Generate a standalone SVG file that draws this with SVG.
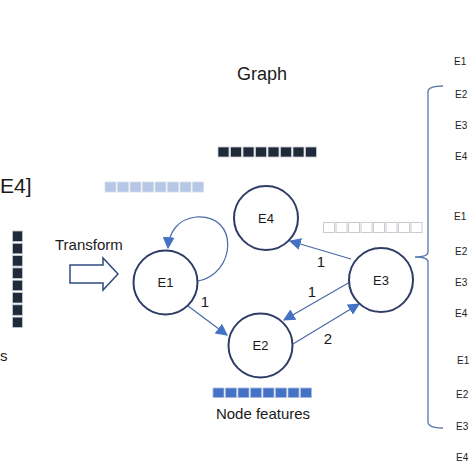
<svg xmlns="http://www.w3.org/2000/svg" width="474" height="474" viewBox="0 0 474 474">
<defs>
<style>
.t{font-family:"Liberation Sans",Arial,sans-serif;fill:#1a1a1a}
.node{fill:#fff;stroke:#2f3d66;stroke-width:2}
.edge{fill:none;stroke:#4a6aa8;stroke-width:1.2}
.dk{fill:#1f2a3a;stroke:#c8ccd2;stroke-width:0.8}
.lb{fill:#b4c7e7;stroke:#d6dde8;stroke-width:0.8}
.wh{fill:#fff;stroke:#c8ccd2;stroke-width:1}
.bl{fill:#4472c4;stroke:#aabbe0;stroke-width:0.8}
.lab{font-family:"Liberation Sans",Arial,sans-serif;font-size:10px;fill:#222}
</style>
<marker id="ah2" viewBox="0 0 10 10" refX="9" refY="5" markerWidth="12" markerHeight="12" orient="auto" markerUnits="userSpaceOnUse">
<path d="M0,0 L10,5 L0,10 z" fill="#4472c4"/>
</marker>
</defs>
<rect width="474" height="474" fill="#fff"/>

<text class="t" x="262" y="80" font-size="18" text-anchor="middle">Graph</text>
<text class="t" x="0" y="193" font-size="21">E4]</text>
<text class="t" x="0" y="361" font-size="15">s</text>
<text class="t" x="55" y="250" font-size="15">Transform</text>
<text class="t" x="263" y="419" font-size="15" text-anchor="middle">Node features</text>

<!-- hollow arrow -->
<path d="M70,265 L103,265 L103,258 L118,274 L103,290 L103,283 L70,283 Z" fill="#fff" stroke="#2f4a80" stroke-width="1.5"/>

<!-- vertical feature bar -->
<g id="vbar">
<rect class="dk" x="12.5" y="231" width="10" height="10.5"/>
<rect class="dk" x="12.5" y="243.3" width="10" height="10.5"/>
<rect class="dk" x="12.5" y="255.6" width="10" height="10.5"/>
<rect class="dk" x="12.5" y="267.9" width="10" height="10.5"/>
<rect class="dk" x="12.5" y="280.2" width="10" height="10.5"/>
<rect class="dk" x="12.5" y="292.5" width="10" height="10.5"/>
<rect class="dk" x="12.5" y="304.8" width="10" height="10.5"/>
<rect class="dk" x="12.5" y="317.1" width="10" height="10.5"/>
</g>

<!-- horizontal feature bars -->
<g id="bar-dark">
<rect class="dk" x="218" y="147" width="11" height="10"/>
<rect class="dk" x="230.5" y="147" width="11" height="10"/>
<rect class="dk" x="243" y="147" width="11" height="10"/>
<rect class="dk" x="255.5" y="147" width="11" height="10"/>
<rect class="dk" x="268" y="147" width="11" height="10"/>
<rect class="dk" x="280.5" y="147" width="11" height="10"/>
<rect class="dk" x="293" y="147" width="11" height="10"/>
<rect class="dk" x="305.5" y="147" width="11" height="10"/>
</g>
<g id="bar-light">
<rect class="lb" x="105" y="182" width="11" height="10"/>
<rect class="lb" x="117.5" y="182" width="11" height="10"/>
<rect class="lb" x="130" y="182" width="11" height="10"/>
<rect class="lb" x="142.5" y="182" width="11" height="10"/>
<rect class="lb" x="155" y="182" width="11" height="10"/>
<rect class="lb" x="167.5" y="182" width="11" height="10"/>
<rect class="lb" x="180" y="182" width="11" height="10"/>
<rect class="lb" x="192.5" y="182" width="11" height="10"/>
</g>
<g id="bar-white">
<rect class="wh" x="323.5" y="222.5" width="11" height="10"/>
<rect class="wh" x="336" y="222.5" width="11" height="10"/>
<rect class="wh" x="348.5" y="222.5" width="11" height="10"/>
<rect class="wh" x="361" y="222.5" width="11" height="10"/>
<rect class="wh" x="373.5" y="222.5" width="11" height="10"/>
<rect class="wh" x="386" y="222.5" width="11" height="10"/>
<rect class="wh" x="398.5" y="222.5" width="11" height="10"/>
<rect class="wh" x="411" y="222.5" width="11" height="10"/>
</g>
<g id="bar-blue">
<rect class="bl" x="213" y="388" width="11" height="9.5"/>
<rect class="bl" x="225.5" y="388" width="11" height="9.5"/>
<rect class="bl" x="238" y="388" width="11" height="9.5"/>
<rect class="bl" x="250.5" y="388" width="11" height="9.5"/>
<rect class="bl" x="263" y="388" width="11" height="9.5"/>
<rect class="bl" x="275.5" y="388" width="11" height="9.5"/>
<rect class="bl" x="288" y="388" width="11" height="9.5"/>
<rect class="bl" x="300.5" y="388" width="11" height="9.5"/>
</g>

<!-- connectors -->
<g id="connectors">
<path class="edge" d="M198,281 C236,274 240,214 196,217 C178,219 169,232 168,248" marker-end="url(#ah2)"/>
<line class="edge" x1="188" y1="306" x2="227" y2="335" marker-end="url(#ah2)"/>
<line class="edge" x1="351" y1="259" x2="290" y2="241" marker-end="url(#ah2)"/>
<line class="edge" x1="350" y1="282" x2="284" y2="320" marker-end="url(#ah2)"/>
<line class="edge" x1="293" y1="344" x2="359" y2="304" marker-end="url(#ah2)"/>
<text class="t" x="205" y="307" font-size="15" text-anchor="middle">1</text>
<text class="t" x="321" y="267" font-size="15" text-anchor="middle">1</text>
<text class="t" x="312" y="297" font-size="15" text-anchor="middle">1</text>
<text class="t" x="328" y="344" font-size="15" text-anchor="middle">2</text>
</g>

<!-- nodes -->
<g id="E1"><circle class="node" cx="165.5" cy="282.5" r="32"/><text class="t" x="165.5" y="287" font-size="13" text-anchor="middle">E1</text></g>
<g id="E2"><circle class="node" cx="260.5" cy="345.5" r="32"/><text class="t" x="260.5" y="350" font-size="13" text-anchor="middle">E2</text></g>
<g id="E3"><circle class="node" cx="381" cy="280" r="32"/><text class="t" x="381" y="285" font-size="13" text-anchor="middle">E3</text></g>
<g id="E4"><circle class="node" cx="266" cy="218" r="32"/><text class="t" x="266" y="223" font-size="13" text-anchor="middle">E4</text></g>

<!-- brace -->
<path d="M443,86 Q428,86 428,92 L428,252 Q428,257 415,257 Q428,257 428,262 L428,422 Q428,428 443,428" fill="none" stroke="#5a78ae" stroke-width="1.3"/>

<!-- right labels -->
<g id="labels">
<text class="lab" x="454" y="65">E1</text>
<text class="lab" x="455" y="98">E2</text>
<text class="lab" x="455" y="129">E3</text>
<text class="lab" x="455" y="160">E4</text>
<text class="lab" x="454" y="220">E1</text>
<text class="lab" x="455" y="255">E2</text>
<text class="lab" x="455" y="286">E3</text>
<text class="lab" x="455" y="317">E4</text>
<text class="lab" x="457" y="364">E1</text>
<text class="lab" x="456" y="398">E2</text>
<text class="lab" x="456" y="430">E3</text>
<text class="lab" x="456" y="461">E4</text>
</g>
</svg>
